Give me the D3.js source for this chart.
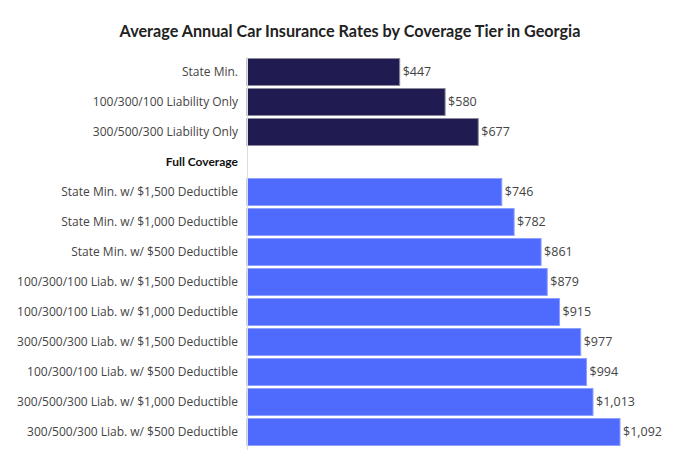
<!DOCTYPE html>
<html><head><meta charset="utf-8">
<script src="https://cdn.jsdelivr.net/npm/d3@7"></script>
<style>body{margin:0;background:#fff}svg{display:block}</style>
</head><body>
<svg id="chart" width="700" height="466"></svg>
<script>
const categories = [
  "State Min.",
  "100/300/100 Liability Only",
  "300/500/300 Liability Only",
  "Full Coverage",
  "State Min. w/ $1,500 Deductible",
  "State Min. w/ $1,000 Deductible",
  "State Min. w/ $500 Deductible",
  "100/300/100 Liab. w/ $1,500 Deductible",
  "100/300/100 Liab. w/ $1,000 Deductible",
  "300/500/300 Liab. w/ $1,500 Deductible",
  "100/300/100 Liab. w/ $500 Deductible",
  "300/500/300 Liab. w/ $1,000 Deductible",
  "300/500/300 Liab. w/ $500 Deductible"
];
const values = [447, 580, 677, null, 746, 782, 861, 879, 915, 977, 994, 1013, 1092];
const groups = ["liability","liability","liability","header","full","full","full","full","full","full","full","full","full"];
const title = "Average Annual Car Insurance Rates by Coverage Tier in Georgia";

const svg = d3.select("#chart");
const left = 247, right = 620;
const x = d3.scaleLinear().domain([0, 1092]).range([left, right]);
const y = d3.scaleBand().domain(categories).range([57, 447]).paddingInner(0.1).paddingOuter(0.05);

const fill = {liability: "#201c52", full: "#4f6bfe"};
const stroke = {liability: "#8a8a9a", full: "#8ea0ff"};

svg.append("text").attr("x", 350).attr("y", 37).attr("text-anchor", "middle")
  .attr("font-family", "Lato, sans-serif").attr("font-weight", "bold").attr("font-size", 16.2)
  .attr("fill", "#222").text(title);

const data = categories.map((c, i) => ({c, v: values[i], g: groups[i]}));

svg.append("g").selectAll("rect").data(data.filter(d => d.v != null)).join("rect")
  .attr("x", x(0)).attr("y", d => y(d.c))
  .attr("width", d => x(d.v) - x(0)).attr("height", y.bandwidth())
  .attr("fill", d => fill[d.g]).attr("stroke", d => stroke[d.g]).attr("stroke-width", 1);

svg.append("g").selectAll("text").data(data.filter(d => d.v != null)).join("text")
  .attr("x", d => x(d.v) + 3).attr("y", d => y(d.c) + y.bandwidth() / 2)
  .attr("dy", "0.35em").attr("font-family", "'Source Sans Pro', 'Open Sans', sans-serif")
  .attr("font-size", 12.5).attr("fill", "#444")
  .text(d => "$" + d3.format(",")(d.v));

const axis = d3.axisLeft(y).tickSize(0).tickPadding(9);
const ag = svg.append("g").attr("transform", `translate(${left},0)`).call(axis);
ag.select(".domain").attr("stroke", "#ddd").attr("d", "M0.5,57V450");
ag.selectAll(".tick text").attr("font-family", "'Open Sans', sans-serif").attr("font-size", 12)
  .attr("fill", "#444")
  .filter(d => d === "Full Coverage").attr("font-weight", "bold").attr("fill", "#111")
  .attr("font-family", "Lato, sans-serif").attr("font-size", 12);
</script>
</body></html>
